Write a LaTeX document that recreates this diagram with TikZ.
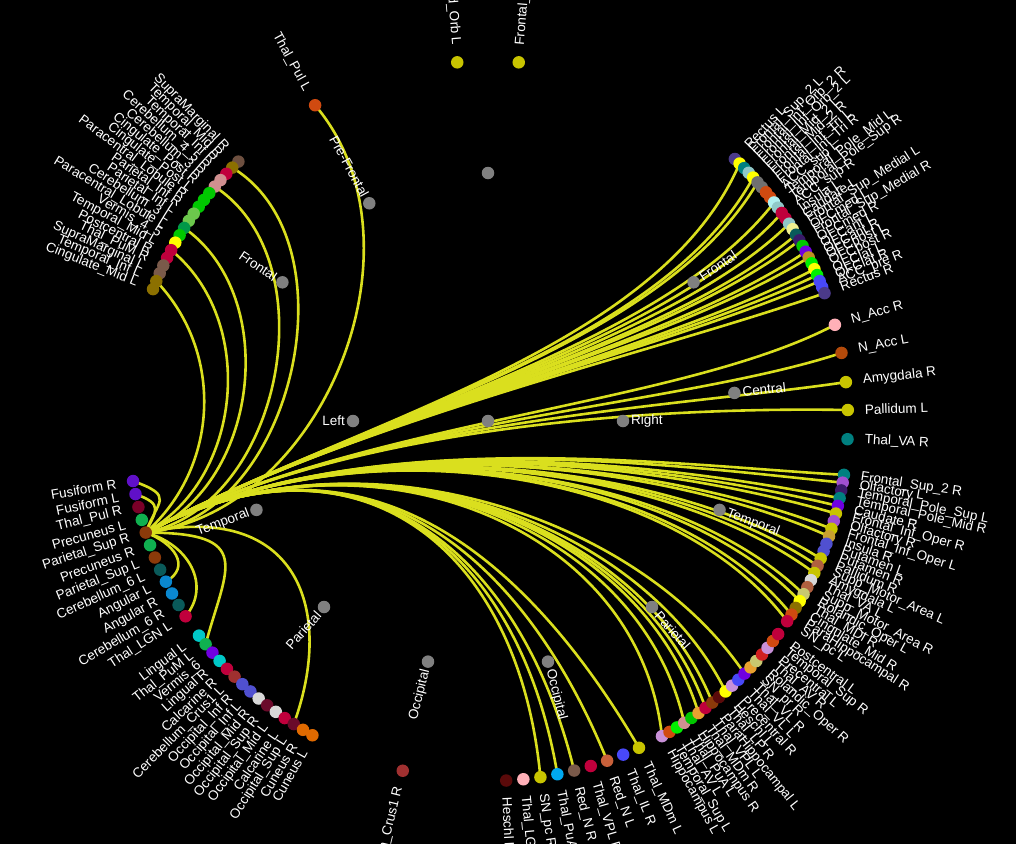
\documentclass[tikz,border=0pt]{standalone}
\usepackage{fontspec}
\setmainfont{Liberation Sans}
\usetikzlibrary{positioning,calc,backgrounds}

\definecolor{edgeyellow}{HTML}{DADF1E}
\definecolor{lobegray}{HTML}{808080}
\definecolor{nbrown}{HTML}{6E5040}
\definecolor{nolive}{HTML}{8C7000}
\definecolor{ncrimson}{HTML}{C0003C}
\definecolor{nrosy}{HTML}{D09090}
\definecolor{ngreen}{HTML}{00C800}
\definecolor{nlgreen}{HTML}{6CC84C}
\definecolor{ndgreen}{HTML}{009848}
\definecolor{nyellow}{HTML}{FFFF00}
\definecolor{npurple}{HTML}{6010C8}
\definecolor{ndcrimson}{HTML}{7A0028}
\definecolor{nmgreen}{HTML}{10B050}
\definecolor{nrust}{HTML}{8B3A0A}
\definecolor{ndteal}{HTML}{0A5A5A}
\definecolor{nsky}{HTML}{0A88D0}
\definecolor{ncyan}{HTML}{00C8C8}
\definecolor{nviolet}{HTML}{7000E0}
\definecolor{ndred}{HTML}{A03030}
\definecolor{nblueviolet}{HTML}{5050D0}
\definecolor{nlgray}{HTML}{D8D8D8}
\definecolor{nmaroon}{HTML}{6A0A2A}
\definecolor{norange}{HTML}{E06A00}
\definecolor{nwine}{HTML}{5A0A0A}
\definecolor{npink}{HTML}{FFB0B8}
\definecolor{nolivey}{HTML}{C8C400}
\definecolor{nsky2}{HTML}{00A8F0}
\definecolor{ntaupe}{HTML}{7A5A4A}
\definecolor{nrust2}{HTML}{C8603A}
\definecolor{nblue}{HTML}{4848F8}
\definecolor{nlav}{HTML}{C890D8}
\definecolor{norred}{HTML}{D04A10}
\definecolor{nlime}{HTML}{00F000}
\definecolor{ngorange}{HTML}{E8A030}
\definecolor{nkhaki}{HTML}{C8C870}
\definecolor{nred}{HTML}{D02020}
\definecolor{nteal}{HTML}{008080}
\definecolor{nlavp}{HTML}{A050D0}
\definecolor{ndpurple}{HTML}{3A1A6A}
\definecolor{ngold}{HTML}{C8A030}
\definecolor{nbrorange}{HTML}{B06040}
\definecolor{nlcyan}{HTML}{B0F0F0}
\definecolor{nlteal}{HTML}{90C8C8}
\definecolor{nlyellow}{HTML}{F0F090}
\definecolor{ndgray}{HTML}{707070}
\definecolor{nnavy}{HTML}{4B3A8A}
\definecolor{nbrnacc}{HTML}{B34A0A}
\definecolor{ngoldbrown}{HTML}{C09020}

\tikzset{
  leaf/.style={circle, inner sep=0pt, minimum size=12.5pt},
  leaftext/.style={text=white, inner sep=2pt, font=\fontsize{13.5}{14}\selectfont},
  lobe/.style={circle, fill=lobegray, inner sep=0pt, minimum size=12.5pt},
  edge/.style={draw=edgeyellow, line width=2.6pt}
}

% one arc of leaves: name prefix, first angle, step, colour/label list
\newcommand{\leafring}[4]{%
  \foreach \col/\txt [count=\i] in {#4} {%
    \pgfmathsetmacro{\ang}{#2+(\i-1)*(#3)}
    \node[leaf, fill=\col] (#1\i) at (\ang:360) {};
    \pgfmathtruncatemacro{\lft}{cos(\ang)<0}
    \ifnum\lft=1
      \node[leaftext, anchor=east, rotate=\ang-180] (#1\i t) at (\ang:375) {\txt};
    \else
      \node[leaftext, anchor=west, rotate=\ang] (#1\i t) at (\ang:375) {\txt};
    \fi
  }}

\begin{document}
\begin{tikzpicture}[x=1pt, y=1pt]
  \useasboundingbox (-488,-423) rectangle (528,421);

  % hierarchy
  \node[lobe] (groot) at (0,0) {};
  \node[lobe] (gleft) at (180:135) {};
  \node[lobe] (gright) at (0:135) {};
  \node[leaftext, anchor=east] (gleftt) at (180:141) {Left};
  \node[leaftext, anchor=west] (grightt) at (0:141) {Right};
  \foreach \nm/\ang/\txt in {gprefr/118.6/Pre-Frontal, gtop/90/, gfrl/146/Frontal,
      gtel/201/Temporal, gpal/228.6/Parietal, gocl/256/Occipital, gocr/284/Occipital,
      gpar/311.4/Parietal, gter/339/Temporal, gcen/6.5/Central, gfrr/34/Frontal} {
    \node[lobe] (\nm) at (\ang:248) {};
    \pgfmathtruncatemacro{\lft}{cos(\ang)<0}
    \ifnum\lft=1
      \node[leaftext, anchor=east, rotate=\ang-180] (\nm t) at (\ang:254) {\txt};
    \else
      \node[leaftext, anchor=west, rotate=\ang] (\nm t) at (\ang:254) {\txt};
    \fi
  }

  % single leaves
  \foreach \nm/\ang/\col/\txt in {a1/118.7/norred/Thal\_Pul L,
      a2/94.9/nolivey/Frontal\_Med\_Orb L, a3/85.1/nolivey/Frontal\_Med\_Orb R,
      e1/256.3/ndred/Cerebellum\_Crus1 R,
      i1/15.5/npink/N\_Acc R, i2/10.9/nbrnacc/N\_Acc L, i3/6.2/nolivey/Amygdala R,
      i4/1.75/nolivey/Pallidum L, i5/-2.9/nteal/Thal\_VA R} {
    \node[leaf, fill=\col] (\nm) at (\ang:360) {};
    \pgfmathtruncatemacro{\lft}{cos(\ang)<0}
    \ifnum\lft=1
      \node[leaftext, anchor=east, rotate=\ang-180] (\nm t) at (\ang:375) {\txt};
    \else
      \node[leaftext, anchor=west, rotate=\ang] (\nm t) at (\ang:375) {\txt};
    \fi
  }

  \leafring{b}{133.9}{1.367}{nbrown/SupraMarginal R, nolive/Temporal\_Mid R,
    ncrimson/Temporal\_Inf R, nrosy/Cerebellum\_4\_5 R, nrosy/Cerebellum\_3 R,
    ngreen/Cingulate\_Post R, ngreen/Cingulate\_Post L, ngreen/Paracentral\_Lobule R,
    nlgreen/Parietal\_Inf R, nlgreen/Parietal\_Inf L, ndgreen/Cerebellum\_3 L,
    ngreen/Paracentral\_Lobule L, nyellow/Vermis\_4\_5, ncrimson/Temporal\_Mid L,
    ncrimson/Postcentral R, ntaupe/Thal\_PuM R, ntaupe/SupraMarginal L,
    nolive/Temporal\_Inf L, nolive/Cingulate\_Mid L}
  \leafring{c}{189.6}{2.114}{npurple/Fusiform R, npurple/Fusiform L,
    ndcrimson/Thal\_Pul R, nmgreen/Precuneus L, nrust/Parietal\_Sup R,
    nmgreen/Precuneus R, nrust/Parietal\_Sup L, ndteal/Cerebellum\_6 L,
    nsky/Angular L, nsky/Angular R, ndteal/Cerebellum\_6 R, ncrimson/Thal\_LGN L}
  \leafring{d}{216.6}{1.729}{ncyan/Lingual L, nmgreen/Thal\_PuM L, nviolet/Vermis\_6,
    ncyan/Lingual R, ncrimson/Calcarine R, ndred/Cerebellum\_Crus1 L,
    nblueviolet/Occipital\_Inf R, nblueviolet/Occipital\_Inf L, nlgray/Occipital\_Mid R,
    nmaroon/Occipital\_Sup R, nlgray/Occipital\_Mid L, ncrimson/Calcarine L,
    nmaroon/Occipital\_Sup L, norange/Cuneus R, norange/Cuneus L}
  \leafring{f}{272.9}{2.7375}{nwine/Heschl R, npink/Thal\_LGN R, nolivey/SN\_pc R,
    nsky2/Thal\_PuA R, ntaupe/Red\_N R, ncrimson/Thal\_VPL R, nrust2/Red\_N L,
    nblue/Thal\_IL R, nolivey/Thal\_MDm L}
  \leafring{g}{298.9}{1.378}{nlav/Hippocampus L, norred/Temporal\_Sup L,
    nlime/Thal\_AV L, nrosy/Thal\_PuA L, ngreen/Hippocampus R, ngorange/Thal\_MDm R,
    ncrimson/Thal\_VPL L, nrust/ParaHippocampal L, nwine/Thal\_LP R, nyellow/Heschl L,
    nlav/Precentral R, nblue/Thal\_VL L, nviolet/Thal\_VL R, ngorange/SN\_pr R,
    nkhaki/Rolandic\_Oper R, nred/Thal\_AV R, nlav/Precentral L,
    norred/Temporal\_Sup R, ncrimson/Postcentral L}
  \leafring{h}{351.4}{-1.26}{nteal/Frontal\_Sup\_2 R, nlavp/Olfactory L,
    ndpurple/Temporal\_Pole\_Sup L, nteal/Temporal\_Pole\_Mid R, nviolet/Caudate R,
    nolivey/Frontal\_Inf\_Oper R, nlavp/Olfactory R, nolivey/Frontal\_Inf\_Oper L,
    ngold/Insula R, nblueviolet/Putamen L, nblueviolet/Putamen R, nolivey/Pallidum R,
    nbrorange/Supp\_Motor\_Area L, nolivey/Amygdala L, nlgray/Thal\_VA L,
    nbrorange/Supp\_Motor\_Area R, nkhaki/Rolandic\_Oper L, nyellow/Thal\_MDl R,
    nolive/Cingulate\_Mid R, norred/ParaHippocampal R, ncrimson/SN\_pc L}
  \leafring{j}{46.7}{-1.036}{nnavy/Rectus L, nyellow/Frontal\_Sup\_2 L,
    nteal/Frontal\_Inf\_Orb\_2 R, nlteal/Frontal\_Inf\_Orb\_2 L, nyellow/Frontal\_Mid\_2 L,
    ndgray/Frontal\_Mid\_2 R, ndgray/Frontal\_Inf\_Tri L, norred/Frontal\_Inf\_Tri R,
    norred/ACC\_sup L, nlcyan/Temporal\_Pole\_Mid L, nlteal/Temporal\_Pole\_Sup R,
    ncrimson/ACC\_sup R, ncrimson/Insula L, nlteal/Caudate L,
    nlyellow/Frontal\_Sup\_Medial L, ndteal/OFCmed L, ndpurple/Frontal\_Sup\_Medial R,
    ngreen/OFCmed R, nviolet/OFCant L, ngoldbrown/OFCant R, nlime/OFCpost L,
    nyellow/OFCpost R, nlime/OFClat L, nblue/OFClat R, nblue/ACC\_pre R, nnavy/Rectus R}

  % bundle points
  \coordinate (cl) at (gleft);
  \coordinate (cfr) at ($(gfrr)!0.5!(gright)$);
  \coordinate (ccen) at ($(gcen)!0.5!(gright)$);
  \coordinate (cter) at ($(gter)!0.5!(gright)$);
  \coordinate (cpar) at ($(gpar)!0.5!(gright)$);
  \coordinate (cocr) at ($(gocr)!0.5!(groot)$);

  \begin{scope}[on background layer]
    \fill[black] (-488,-423) rectangle (528,421);
    \foreach \k in {2,5,6,10,12,14,16,17,19,20,22,23,24,26}
      \draw[edge] (c5.center) .. controls (cl) and (cfr) .. (j\k.center);
    \foreach \k in {1,...,4}
      \draw[edge] (c5.center) .. controls (cl) and (ccen) .. (i\k.center);
    \foreach \k in {1,2,4,5,6,8,9,12,13,14,17,18,20,21}
      \draw[edge] (c5.center) .. controls (cl) and (cter) .. (h\k.center);
    \foreach \k in {1,4,6,7,8,10,13}
      \draw[edge] (c5.center) .. controls (cl) and (cpar) .. (g\k.center);
    \foreach \k in {3,4,5,7,9}
      \draw[edge] (c5.center) .. controls (cl) and (cocr) .. (f\k.center);
    \foreach \k/\b in {2/72,5/68,11/62,14/56,18/46}
      \draw[edge] (c5.center) to[bend right=\b] (b\k.center);
    \draw[edge] (c5.center) to[bend right=62] (a1.center);
    \draw[edge] (c5.center) .. controls +(70:35) and +(-20:45) .. (c1.center);
    \draw[edge] (c5.center) .. controls +(65:25) and +(-20:30) .. (c2.center);
    \draw[edge] (c5.center) .. controls +(-20:30) and +(30:30) .. (c9.center);
    \draw[edge] (c5.center) .. controls +(-15:45) and +(50:40) .. (c12.center);
    \draw[edge] (c5.center) .. controls +(0:110) and +(75:80) .. (d2.center);
    \draw[edge] (c5.center) .. controls +(12:156) and +(70:121) .. (d13.center);
  \end{scope}
\end{tikzpicture}
\end{document}
